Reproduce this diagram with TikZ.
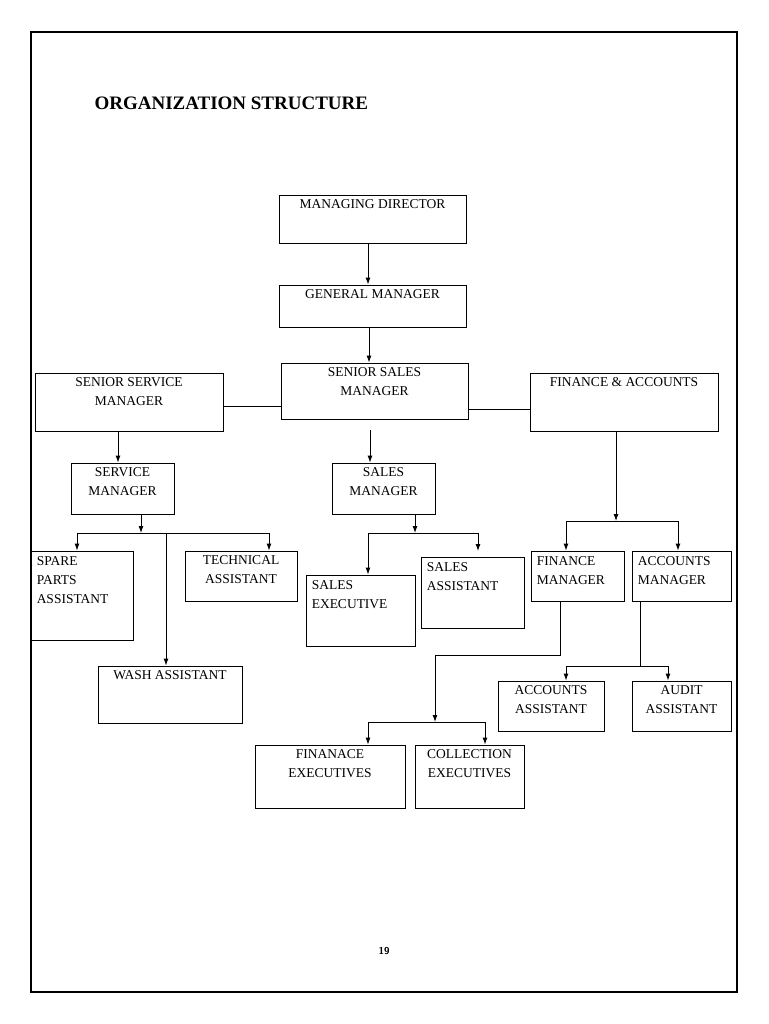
\documentclass[tikz,border=0pt]{standalone}
\usepackage{fontspec}
\setmainfont{Liberation Serif}
\usetikzlibrary{arrows.meta}

\tikzset{
  box/.style={draw, line width=0.9pt, rectangle, inner sep=0pt},
  top/.style={label={[anchor=north, align=center, inner sep=5pt, font=\fontsize{13.5}{19}\selectfont]north:#1}},
  topleft/.style={label={[anchor=north west, align=left, inner sep=6pt, font=\fontsize{13.5}{19}\selectfont]north west:#1}},
  arr/.style={-{Latex[length=7pt,width=5pt]}, line width=0.9pt},
  ln/.style={line width=0.9pt}
}

\begin{document}
\begin{tikzpicture}[x=1pt, y=-1pt]
    \useasboundingbox (0,0) rectangle (768,1024);
    \draw[line width=1.2pt] (31,32) rectangle (737,992);

    \node[anchor=base west, font=\bfseries\fontsize{19}{22}\selectfont] (title) at (91,110) {ORGANIZATION STRUCTURE};

    \node[box, minimum width=187, minimum height=48, top={MANAGING DIRECTOR}] (md) at (372.5,219) {};
    \node[box, minimum width=187, minimum height=42, top={GENERAL MANAGER}] (gm) at (372.5,306) {};
    \node[box, minimum width=187, minimum height=56, top={SENIOR SALES\\MANAGER}] (ssm) at (374.5,391) {};
    \node[box, minimum width=188, minimum height=58, top={SENIOR SERVICE\\MANAGER}] (srv) at (129,402) {};
    \node[box, minimum width=188, minimum height=58, top={FINANCE \& ACCOUNTS}] (fa) at (624,402) {};

    \node[box, minimum width=103, minimum height=51, top={SERVICE\\MANAGER}] (svm) at (122.5,488.5) {};
    \node[box, minimum width=103, minimum height=51, top={SALES\\MANAGER}] (slm) at (383.5,488.5) {};

    \node[box, minimum width=102, minimum height=89, topleft={SPARE\\PARTS\\ASSISTANT}] (spare) at (82,595.5) {};
    \node[box, minimum width=112, minimum height=50, top={TECHNICAL\\ASSISTANT}] (tech) at (241,576) {};
    \node[box, minimum width=144, minimum height=57, top={WASH ASSISTANT}] (wash) at (170,694.5) {};

    \node[box, minimum width=109, minimum height=71, topleft={SALES\\EXECUTIVE}] (sexe) at (360.5,610.5) {};
    \node[box, minimum width=103, minimum height=71, topleft={SALES\\ASSISTANT}] (sasst) at (472.5,592.5) {};

    \node[box, minimum width=93, minimum height=50, topleft={FINANCE\\MANAGER}] (fm) at (577.5,576) {};
    \node[box, minimum width=99, minimum height=50, topleft={ACCOUNTS\\MANAGER}] (am) at (681.5,576) {};

    \node[box, minimum width=106, minimum height=50, top={ACCOUNTS\\ASSISTANT}] (aa) at (551,706) {};
    \node[box, minimum width=99, minimum height=50, top={AUDIT\\ASSISTANT}] (audit) at (681.5,706) {};

    \node[box, minimum width=150, minimum height=63, top={FINANACE\\EXECUTIVES}] (fexe) at (330,776.5) {};
    \node[box, minimum width=109, minimum height=63, top={COLLECTION\\EXECUTIVES}] (cexe) at (469.5,776.5) {};

    \node[font=\sffamily\bfseries\fontsize{10}{12}\selectfont] (page) at (384,951) {19};

    % joints of the buses
    \coordinate (slfree) at (370,430);
    \coordinate (svbus) at (141,533);
    \coordinate (slbus) at (415,533);
    \coordinate (fabus) at (616,521);
    \coordinate (fmturn) at (560,655);
    \coordinate (fxbus) at (435,722);
    \coordinate (ambus) at (640,666);

    \draw[arr] (md.south -| 368,0) -- (gm.north -| 368,0);
    \draw[arr] (gm.south -| 369,0) -- (ssm.north -| 369,0);
    \draw[ln] (srv.east |- 0,406) -- (ssm.west |- 0,406);
    \draw[ln] (ssm.east |- 0,409) -- (fa.west |- 0,409);

    \draw[arr] (srv.south -| 118,0) -- (svm.north -| 118,0);
    \draw[arr] (slfree) -- (slm.north -| 370,0);
    \draw[arr] (fa.south -| 616,0) -- (fabus);

    \draw[arr] (svm.south -| 141,0) -- (svbus);
    \draw[ln] (svbus -| 77,0) -- (svbus -| 269,0);
    \draw[arr] (svbus -| 77,0) -- (spare.north -| 77,0);
    \draw[arr] (svbus -| 269,0) -- (tech.north -| 269,0);
    \draw[arr] (svbus -| 166,0) -- (wash.north -| 166,0);

    \draw[arr] (slm.south -| 415,0) -- (slbus);
    \draw[ln] (slbus -| 368,0) -- (slbus -| 478,0);
    \draw[arr] (slbus -| 368,0) -- (sexe.north -| 368,0);
    \draw[arr] (slbus -| 478,0) -- (478,551);

    \draw[ln] (fabus -| 566,0) -- (fabus -| 678,0);
    \draw[arr] (fabus -| 566,0) -- (fm.north -| 566,0);
    \draw[arr] (fabus -| 678,0) -- (am.north -| 678,0);

    \draw[arr] (fm.south -| fmturn) -- (fmturn) -- (fmturn -| fxbus) -- (fxbus);
    \draw[ln] (fxbus -| 368,0) -- (fxbus -| 485,0);
    \draw[arr] (fxbus -| 368,0) -- (fexe.north -| 368,0);
    \draw[arr] (fxbus -| 485,0) -- (cexe.north -| 485,0);

    \draw[ln] (am.south -| ambus) -- (ambus);
    \draw[ln] (ambus -| 566,0) -- (ambus -| 668,0);
    \draw[arr] (ambus -| 566,0) -- (aa.north -| 566,0);
    \draw[arr] (ambus -| 668,0) -- (audit.north -| 668,0);
\end{tikzpicture}
\end{document}
